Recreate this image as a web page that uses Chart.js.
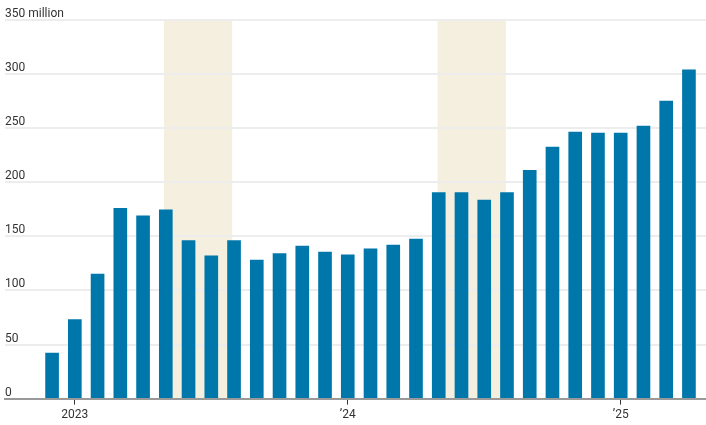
<!DOCTYPE html>
<html>
<head>
<meta charset="utf-8">
<script src="https://cdn.jsdelivr.net/npm/chart.js@4.4.1/dist/chart.umd.min.js"></script>
<style>
  html, body { margin: 0; padding: 0; background: #fff; }
  #wrap { width: 706px; height: 425px; position: relative; }
</style>
</head>
<body>
<div id="wrap"><canvas id="chart"></canvas></div>
<script>
// monthly values, millions (Dec 2022 .. Apr 2025)
const months = [
  'Dec 2022', 'Jan 2023', 'Feb 2023', 'Mar 2023', 'Apr 2023', 'May 2023', 'Jun 2023',
  'Jul 2023', 'Aug 2023', 'Sep 2023', 'Oct 2023', 'Nov 2023', 'Dec 2023',
  'Jan 2024', 'Feb 2024', 'Mar 2024', 'Apr 2024', 'May 2024', 'Jun 2024',
  'Jul 2024', 'Aug 2024', 'Sep 2024', 'Oct 2024', 'Nov 2024', 'Dec 2024',
  'Jan 2025', 'Feb 2025', 'Mar 2025', 'Apr 2025'
];
const values = [
  42, 73, 115, 176, 169, 174.5, 146, 132, 146, 128, 134, 141, 135.5,
  133, 138.5, 142, 147.5, 190.5, 190.5, 183.5, 190.5, 211, 232.5, 246.5, 245.5,
  245.5, 252, 275, 304
];
// shaded periods, in month-index units
const shadeStart = [4.92, 16.95];
const shadeEnd = [7.92, 19.95];
// x-axis labels
const tickIndex = [1, 13, 25];
const tickText = ['2023', '\u201924', '\u201925'];
const yTicks = [0, 50, 100, 150, 200, 250, 300, 350];

const FONT = 'Roboto, sans-serif';

const shadePlugin = {
  id: 'shade',
  beforeDraw(chart) {
    const { ctx, chartArea, scales } = chart;
    ctx.save();
    ctx.fillStyle = '#f5efdf';
    for (let i = 0; i < shadeStart.length; i++) {
      const x0 = scales.x.getPixelForValue(shadeStart[i]);
      const x1 = scales.x.getPixelForValue(shadeEnd[i]);
      ctx.fillRect(x0, chartArea.top, x1 - x0, chartArea.bottom - chartArea.top);
    }
    ctx.restore();
  }
};

new Chart(document.getElementById('chart'), {
  type: 'bar',
  data: {
    datasets: [{
      label: 'Monthly',
      data: values.map((v, i) => ({ x: i, y: v })),
      backgroundColor: '#0077ab',
      barThickness: 13,
      borderWidth: 0
    }]
  },
  options: {
    responsive: true,
    maintainAspectRatio: false,
    animation: false,
    layout: { padding: { top: 20, left: 5, right: 0, bottom: 0 } },
    plugins: { legend: { display: false }, tooltip: { enabled: false } },
    scales: {
      x: {
        type: 'linear',
        offset: false,
        min: -2.07,
        max: 28.75,
        afterBuildTicks: (axis) => { axis.ticks = tickIndex.map(v => ({ value: v })); },
        grid: { display: true, offset: false, drawOnChartArea: false, drawTicks: true, tickLength: 6, color: '#333', lineWidth: 1 },
        border: { display: true, color: '#999', width: 2 },
        ticks: {
          color: '#333',
          font: { family: FONT, size: 12 },
          padding: 3,
          maxRotation: 0,
          autoSkip: false,
          callback: (v) => tickText[tickIndex.indexOf(v)]
        }
      },
      y: {
        min: 0,
        max: 350,
        afterBuildTicks: (axis) => { axis.ticks = yTicks.map(v => ({ value: v })); },
        grid: {
          drawTicks: false,
          color: (c) => c.tick && c.tick.value === 0 ? 'rgba(0,0,0,0)' : '#ededed',
          lineWidth: 2
        },
        border: { display: false },
        ticks: {
          mirror: true,
          padding: 0,
          labelOffset: -6,
          color: '#333',
          font: { family: FONT, size: 12 },
          callback: (v) => v === 350 ? '350 million' : String(v)
        }
      }
    }
  },
  plugins: [shadePlugin]
});
</script>
</body>
</html>
